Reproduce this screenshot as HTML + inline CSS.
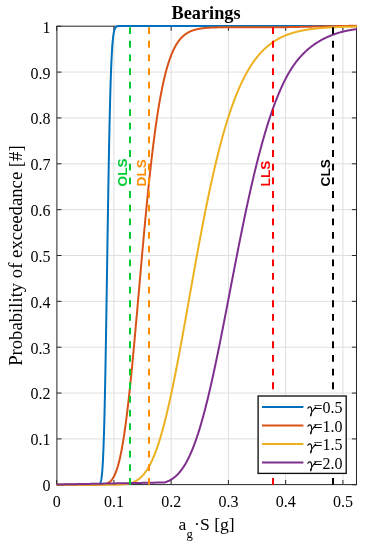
<!DOCTYPE html>
<html><head><meta charset="utf-8"><style>
html,body{margin:0;padding:0;background:#fff;}
svg{display:block;}
</style></head><body>
<svg width="369" height="550" viewBox="0 0 369 550">
<defs><clipPath id="ax"><rect x="55.4" y="24.2" width="302.60" height="462.40"/></clipPath></defs>
<rect width="369" height="550" fill="#fff"/>
<line x1="113.90" y1="26.2" x2="113.90" y2="484.6" stroke="#dfdfdf" stroke-width="1"/>
<line x1="171.15" y1="26.2" x2="171.15" y2="484.6" stroke="#dfdfdf" stroke-width="1"/>
<line x1="228.40" y1="26.2" x2="228.40" y2="484.6" stroke="#dfdfdf" stroke-width="1"/>
<line x1="285.65" y1="26.2" x2="285.65" y2="484.6" stroke="#dfdfdf" stroke-width="1"/>
<line x1="342.90" y1="26.2" x2="342.90" y2="484.6" stroke="#dfdfdf" stroke-width="1"/>
<line x1="56.9" y1="438.90" x2="356.5" y2="438.90" stroke="#dfdfdf" stroke-width="1"/>
<line x1="56.9" y1="393.05" x2="356.5" y2="393.05" stroke="#dfdfdf" stroke-width="1"/>
<line x1="56.9" y1="347.20" x2="356.5" y2="347.20" stroke="#dfdfdf" stroke-width="1"/>
<line x1="56.9" y1="301.35" x2="356.5" y2="301.35" stroke="#dfdfdf" stroke-width="1"/>
<line x1="56.9" y1="255.50" x2="356.5" y2="255.50" stroke="#dfdfdf" stroke-width="1"/>
<line x1="56.9" y1="209.65" x2="356.5" y2="209.65" stroke="#dfdfdf" stroke-width="1"/>
<line x1="56.9" y1="163.80" x2="356.5" y2="163.80" stroke="#dfdfdf" stroke-width="1"/>
<line x1="56.9" y1="117.95" x2="356.5" y2="117.95" stroke="#dfdfdf" stroke-width="1"/>
<line x1="56.9" y1="72.10" x2="356.5" y2="72.10" stroke="#dfdfdf" stroke-width="1"/>
<rect x="56.9" y="26.2" width="299.60" height="458.40" fill="none" stroke="#262626" stroke-width="1"/>
<line x1="56.65" y1="484.6" x2="56.65" y2="480.0" stroke="#262626" stroke-width="1"/>
<line x1="56.65" y1="26.2" x2="56.65" y2="30.799999999999997" stroke="#262626" stroke-width="1"/>
<line x1="113.90" y1="484.6" x2="113.90" y2="480.0" stroke="#262626" stroke-width="1"/>
<line x1="113.90" y1="26.2" x2="113.90" y2="30.799999999999997" stroke="#262626" stroke-width="1"/>
<line x1="171.15" y1="484.6" x2="171.15" y2="480.0" stroke="#262626" stroke-width="1"/>
<line x1="171.15" y1="26.2" x2="171.15" y2="30.799999999999997" stroke="#262626" stroke-width="1"/>
<line x1="228.40" y1="484.6" x2="228.40" y2="480.0" stroke="#262626" stroke-width="1"/>
<line x1="228.40" y1="26.2" x2="228.40" y2="30.799999999999997" stroke="#262626" stroke-width="1"/>
<line x1="285.65" y1="484.6" x2="285.65" y2="480.0" stroke="#262626" stroke-width="1"/>
<line x1="285.65" y1="26.2" x2="285.65" y2="30.799999999999997" stroke="#262626" stroke-width="1"/>
<line x1="342.90" y1="484.6" x2="342.90" y2="480.0" stroke="#262626" stroke-width="1"/>
<line x1="342.90" y1="26.2" x2="342.90" y2="30.799999999999997" stroke="#262626" stroke-width="1"/>
<line x1="56.9" y1="484.75" x2="61.5" y2="484.75" stroke="#262626" stroke-width="1"/>
<line x1="356.5" y1="484.75" x2="351.9" y2="484.75" stroke="#262626" stroke-width="1"/>
<line x1="56.9" y1="438.90" x2="61.5" y2="438.90" stroke="#262626" stroke-width="1"/>
<line x1="356.5" y1="438.90" x2="351.9" y2="438.90" stroke="#262626" stroke-width="1"/>
<line x1="56.9" y1="393.05" x2="61.5" y2="393.05" stroke="#262626" stroke-width="1"/>
<line x1="356.5" y1="393.05" x2="351.9" y2="393.05" stroke="#262626" stroke-width="1"/>
<line x1="56.9" y1="347.20" x2="61.5" y2="347.20" stroke="#262626" stroke-width="1"/>
<line x1="356.5" y1="347.20" x2="351.9" y2="347.20" stroke="#262626" stroke-width="1"/>
<line x1="56.9" y1="301.35" x2="61.5" y2="301.35" stroke="#262626" stroke-width="1"/>
<line x1="356.5" y1="301.35" x2="351.9" y2="301.35" stroke="#262626" stroke-width="1"/>
<line x1="56.9" y1="255.50" x2="61.5" y2="255.50" stroke="#262626" stroke-width="1"/>
<line x1="356.5" y1="255.50" x2="351.9" y2="255.50" stroke="#262626" stroke-width="1"/>
<line x1="56.9" y1="209.65" x2="61.5" y2="209.65" stroke="#262626" stroke-width="1"/>
<line x1="356.5" y1="209.65" x2="351.9" y2="209.65" stroke="#262626" stroke-width="1"/>
<line x1="56.9" y1="163.80" x2="61.5" y2="163.80" stroke="#262626" stroke-width="1"/>
<line x1="356.5" y1="163.80" x2="351.9" y2="163.80" stroke="#262626" stroke-width="1"/>
<line x1="56.9" y1="117.95" x2="61.5" y2="117.95" stroke="#262626" stroke-width="1"/>
<line x1="356.5" y1="117.95" x2="351.9" y2="117.95" stroke="#262626" stroke-width="1"/>
<line x1="56.9" y1="72.10" x2="61.5" y2="72.10" stroke="#262626" stroke-width="1"/>
<line x1="356.5" y1="72.10" x2="351.9" y2="72.10" stroke="#262626" stroke-width="1"/>
<line x1="56.9" y1="26.25" x2="61.5" y2="26.25" stroke="#262626" stroke-width="1"/>
<line x1="356.5" y1="26.25" x2="351.9" y2="26.25" stroke="#262626" stroke-width="1"/>
<g fill="none" stroke-width="2" stroke-linejoin="round" clip-path="url(#ax)">
<path d="M56.65,484.75 L57.05,484.75 L57.45,484.75 L57.85,484.75 L58.25,484.75 L58.65,484.75 L59.05,484.75 L59.45,484.75 L59.85,484.75 L60.25,484.75 L60.65,484.75 L61.06,484.75 L61.46,484.75 L61.86,484.75 L62.26,484.75 L62.66,484.75 L63.06,484.75 L63.46,484.75 L63.86,484.75 L64.26,484.75 L64.66,484.75 L65.06,484.75 L65.46,484.75 L65.86,484.75 L66.26,484.75 L66.66,484.75 L67.06,484.75 L67.46,484.75 L67.86,484.75 L68.26,484.75 L68.66,484.75 L69.06,484.75 L69.46,484.75 L69.87,484.75 L70.27,484.75 L70.67,484.75 L71.07,484.75 L71.47,484.75 L71.87,484.75 L72.27,484.75 L72.67,484.75 L73.07,484.75 L73.47,484.75 L73.87,484.75 L74.27,484.75 L74.67,484.75 L75.07,484.75 L75.47,484.75 L75.87,484.75 L76.27,484.75 L76.67,484.75 L77.07,484.75 L77.47,484.75 L77.87,484.75 L78.28,484.75 L78.68,484.75 L79.08,484.75 L79.48,484.75 L79.88,484.75 L80.28,484.75 L80.68,484.75 L81.08,484.75 L81.48,484.75 L81.88,484.75 L82.28,484.75 L82.68,484.75 L83.08,484.75 L83.48,484.75 L83.88,484.75 L84.28,484.75 L84.68,484.75 L85.08,484.75 L85.48,484.75 L85.88,484.75 L86.28,484.75 L86.69,484.75 L87.09,484.75 L87.49,484.75 L87.89,484.75 L88.29,484.75 L88.69,484.75 L89.09,484.75 L89.49,484.75 L89.89,484.75 L90.29,484.75 L90.69,484.75 L91.09,484.75 L91.49,484.75 L91.89,484.75 L92.29,484.75 L92.69,484.75 L93.09,484.75 L93.49,484.75 L93.89,484.75 L94.29,484.75 L94.69,484.75 L95.09,484.75 L95.50,484.75 L95.90,484.75 L96.30,484.75 L96.70,484.74 L97.10,484.74 L97.50,484.73 L97.90,484.70 L98.30,484.65 L98.70,484.57 L99.10,484.41 L99.30,484.30 L99.50,484.15 L99.70,483.96 L99.90,483.72 L100.10,483.42 L100.30,483.04 L100.50,482.57 L100.70,481.99 L100.90,481.28 L101.10,480.42 L101.30,479.38 L101.50,478.14 L101.70,476.66 L101.90,474.93 L102.10,472.89 L102.30,470.53 L102.50,467.80 L102.70,464.68 L102.90,461.12 L103.10,457.10 L103.30,452.58 L103.50,447.53 L103.70,441.93 L103.91,435.77 L104.11,429.01 L104.31,421.66 L104.51,413.71 L104.71,405.17 L104.91,396.03 L105.11,386.32 L105.31,376.07 L105.51,365.30 L105.71,354.05 L105.91,342.37 L106.11,330.30 L106.31,317.91 L106.51,305.25 L106.71,292.39 L106.91,279.39 L107.11,266.32 L107.31,253.24 L107.51,240.23 L107.71,227.34 L107.91,214.64 L108.11,202.20 L108.31,190.05 L108.51,178.25 L108.71,166.85 L108.91,155.89 L109.11,145.39 L109.31,135.39 L109.51,125.89 L109.71,116.93 L109.91,108.50 L110.11,100.60 L110.31,93.24 L110.51,86.41 L110.71,80.10 L110.91,74.29 L111.11,68.97 L111.31,64.10 L111.51,59.68 L111.71,55.68 L111.91,52.07 L112.11,48.83 L112.31,45.92 L112.52,43.34 L112.72,41.04 L112.92,39.00 L113.12,37.21 L113.32,35.63 L113.52,34.25 L113.72,33.05 L113.92,32.01 L114.12,31.10 L114.32,30.32 L114.52,29.65 L114.72,29.07 L114.92,28.58 L115.12,28.16 L115.32,27.81 L115.52,27.51 L115.72,27.25 L115.92,27.04 L116.12,26.86 L116.32,26.71 L116.52,26.59 L116.72,26.48 L117.12,26.33 L117.52,26.22 L117.92,26.15 L118.32,26.11 L118.72,26.07 L119.12,26.05 L119.52,26.04 L119.92,26.03 L120.32,26.03 L120.72,26.03 L121.13,26.02 L121.53,26.02 L121.93,26.02 L122.33,26.02 L122.73,26.02 L123.13,26.02 L123.53,26.02 L123.93,26.02 L124.33,26.02 L124.73,26.02 L125.13,26.02 L125.53,26.02 L125.93,26.02 L126.33,26.02 L126.73,26.02 L127.13,26.02 L127.53,26.02 L127.93,26.02 L128.33,26.02 L128.73,26.02 L129.13,26.02 L129.53,26.02 L129.94,26.02 L130.34,26.02 L130.74,26.02 L131.14,26.02 L131.54,26.02 L131.94,26.02 L132.34,26.02 L132.74,26.02 L133.14,26.02 L133.54,26.02 L133.94,26.02 L134.34,26.02 L134.74,26.02 L135.14,26.02 L135.54,26.02 L135.94,26.02 L136.34,26.02 L136.74,26.02 L137.14,26.02 L137.54,26.02 L137.94,26.02 L138.35,26.02 L138.75,26.02 L139.15,26.02 L139.55,26.02 L139.95,26.02 L140.35,26.02 L140.75,26.02 L141.15,26.02 L141.55,26.02 L141.95,26.02 L142.35,26.02 L142.75,26.02 L143.15,26.02 L143.55,26.02 L143.95,26.02 L144.35,26.02 L144.75,26.02 L145.15,26.02 L145.55,26.02 L145.95,26.02 L146.35,26.02 L146.75,26.02 L147.16,26.02 L147.56,26.02 L147.96,26.02 L148.36,26.02 L148.76,26.02 L149.16,26.02 L149.56,26.02 L149.96,26.02 L150.36,26.02 L150.76,26.02 L151.16,26.02 L151.56,26.02 L151.96,26.02 L152.36,26.02 L152.76,26.02 L153.16,26.02 L153.56,26.02 L153.96,26.02 L154.36,26.02 L154.76,26.02 L155.16,26.02 L155.57,26.02 L155.97,26.02 L156.37,26.02 L156.77,26.02 L157.17,26.02 L157.57,26.02 L157.97,26.02 L158.37,26.02 L158.77,26.02 L159.17,26.02 L159.57,26.02 L159.97,26.02 L160.37,26.02 L160.77,26.02 L161.17,26.02 L161.57,26.02 L161.97,26.02 L162.37,26.02 L162.77,26.02 L163.17,26.02 L163.57,26.02 L163.98,26.02 L164.38,26.02 L164.78,26.02 L165.18,26.02 L165.58,26.02 L165.98,26.02 L166.38,26.02 L166.78,26.02 L167.18,26.02 L167.58,26.02 L167.98,26.02 L168.38,26.02 L168.78,26.02 L169.18,26.02 L169.58,26.02 L169.98,26.02 L170.38,26.02 L170.78,26.02 L171.18,26.02 L171.58,26.02 L171.98,26.02 L172.38,26.02 L172.79,26.02 L173.19,26.02 L173.59,26.02 L173.99,26.02 L174.39,26.02 L174.79,26.02 L175.19,26.02 L175.59,26.02 L175.99,26.02 L176.39,26.02 L176.79,26.02 L177.19,26.02 L177.59,26.02 L177.99,26.02 L178.39,26.02 L178.79,26.02 L179.19,26.02 L179.59,26.02 L179.99,26.02 L180.39,26.02 L180.79,26.02 L181.20,26.02 L181.60,26.02 L182.00,26.02 L182.40,26.02 L182.80,26.02 L183.20,26.02 L183.60,26.02 L184.00,26.02 L184.40,26.02 L184.80,26.02 L185.20,26.02 L185.60,26.02 L186.00,26.02 L186.40,26.02 L186.80,26.02 L187.20,26.02 L187.60,26.02 L188.00,26.02 L188.40,26.02 L188.80,26.02 L189.20,26.02 L189.60,26.02 L190.01,26.02 L190.41,26.02 L190.81,26.02 L191.21,26.02 L191.61,26.02 L192.01,26.02 L192.41,26.02 L192.81,26.02 L193.21,26.02 L193.61,26.02 L194.01,26.02 L194.41,26.02 L194.81,26.02 L195.21,26.02 L195.61,26.02 L196.01,26.02 L196.41,26.02 L196.81,26.02 L197.21,26.02 L197.61,26.02 L198.01,26.02 L198.42,26.02 L198.82,26.02 L199.22,26.02 L199.62,26.02 L200.02,26.02 L200.42,26.02 L200.82,26.02 L201.22,26.02 L201.62,26.02 L202.02,26.02 L202.42,26.02 L202.82,26.02 L203.22,26.02 L203.62,26.02 L204.02,26.02 L204.42,26.02 L204.82,26.02 L205.22,26.02 L205.62,26.02 L206.02,26.02 L206.42,26.02 L206.83,26.02 L207.23,26.02 L207.63,26.02 L208.03,26.02 L208.43,26.02 L208.83,26.02 L209.23,26.02 L209.63,26.02 L210.03,26.02 L210.43,26.02 L210.83,26.02 L211.23,26.02 L211.63,26.02 L212.03,26.02 L212.43,26.02 L212.83,26.02 L213.23,26.02 L213.63,26.02 L214.03,26.02 L214.43,26.02 L214.83,26.02 L215.23,26.02 L215.64,26.02 L216.04,26.02 L216.44,26.02 L216.84,26.02 L217.24,26.02 L217.64,26.02 L218.04,26.02 L218.44,26.02 L218.84,26.02 L219.24,26.02 L219.64,26.02 L220.04,26.02 L220.44,26.02 L220.84,26.02 L221.24,26.02 L221.64,26.02 L222.04,26.02 L222.44,26.02 L222.84,26.02 L223.24,26.02 L223.64,26.02 L224.05,26.02 L224.45,26.02 L224.85,26.02 L225.25,26.02 L225.65,26.02 L226.05,26.02 L226.45,26.02 L226.85,26.02 L227.25,26.02 L227.65,26.02 L228.05,26.02 L228.45,26.02 L228.85,26.02 L229.25,26.02 L229.65,26.02 L230.05,26.02 L230.45,26.02 L230.85,26.02 L231.25,26.02 L231.65,26.02 L232.05,26.02 L232.45,26.02 L232.86,26.02 L233.26,26.02 L233.66,26.02 L234.06,26.02 L234.46,26.02 L234.86,26.02 L235.26,26.02 L235.66,26.02 L236.06,26.02 L236.46,26.02 L236.86,26.02 L237.26,26.02 L237.66,26.02 L238.06,26.02 L238.46,26.02 L238.86,26.02 L239.26,26.02 L239.66,26.02 L240.06,26.02 L240.46,26.02 L240.86,26.02 L241.27,26.02 L241.67,26.02 L242.07,26.02 L242.47,26.02 L242.87,26.02 L243.27,26.02 L243.67,26.02 L244.07,26.02 L244.47,26.02 L244.87,26.02 L245.27,26.02 L245.67,26.02 L246.07,26.02 L246.47,26.02 L246.87,26.02 L247.27,26.02 L247.67,26.02 L248.07,26.02 L248.47,26.02 L248.87,26.02 L249.27,26.02 L249.67,26.02 L250.08,26.02 L250.48,26.02 L250.88,26.02 L251.28,26.02 L251.68,26.02 L252.08,26.02 L252.48,26.02 L252.88,26.02 L253.28,26.02 L253.68,26.02 L254.08,26.02 L254.48,26.02 L254.88,26.02 L255.28,26.02 L255.68,26.02 L256.08,26.02 L256.48,26.02 L256.88,26.02 L257.28,26.02 L257.68,26.02 L258.08,26.02 L258.49,26.02 L258.89,26.02 L259.29,26.02 L259.69,26.02 L260.09,26.02 L260.49,26.02 L260.89,26.02 L261.29,26.02 L261.69,26.02 L262.09,26.02 L262.49,26.02 L262.89,26.02 L263.29,26.02 L263.69,26.02 L264.09,26.02 L264.49,26.02 L264.89,26.02 L265.29,26.02 L265.69,26.02 L266.09,26.02 L266.49,26.02 L266.90,26.02 L267.30,26.02 L267.70,26.02 L268.10,26.02 L268.50,26.02 L268.90,26.02 L269.30,26.02 L269.70,26.02 L270.10,26.02 L270.50,26.02 L270.90,26.02 L271.30,26.02 L271.70,26.02 L272.10,26.02 L272.50,26.02 L272.90,26.02 L273.30,26.02 L273.70,26.02 L274.10,26.02 L274.50,26.02 L274.90,26.02 L275.30,26.02 L275.71,26.02 L276.11,26.02 L276.51,26.02 L276.91,26.02 L277.31,26.02 L277.71,26.02 L278.11,26.02 L278.51,26.02 L278.91,26.02 L279.31,26.02 L279.71,26.02 L280.11,26.02 L280.51,26.02 L280.91,26.02 L281.31,26.02 L281.71,26.02 L282.11,26.02 L282.51,26.02 L282.91,26.02 L283.31,26.02 L283.71,26.02 L284.12,26.02 L284.52,26.02 L284.92,26.02 L285.32,26.02 L285.72,26.02 L286.12,26.02 L286.52,26.02 L286.92,26.02 L287.32,26.02 L287.72,26.02 L288.12,26.02 L288.52,26.02 L288.92,26.02 L289.32,26.02 L289.72,26.02 L290.12,26.02 L290.52,26.02 L290.92,26.02 L291.32,26.02 L291.72,26.02 L292.12,26.02 L292.52,26.02 L292.93,26.02 L293.33,26.02 L293.73,26.02 L294.13,26.02 L294.53,26.02 L294.93,26.02 L295.33,26.02 L295.73,26.02 L296.13,26.02 L296.53,26.02 L296.93,26.02 L297.33,26.02 L297.73,26.02 L298.13,26.02 L298.53,26.02 L298.93,26.02 L299.33,26.02 L299.73,26.02 L300.13,26.02 L300.53,26.02 L300.93,26.02 L301.34,26.02 L301.74,26.02 L302.14,26.02 L302.54,26.02 L302.94,26.02 L303.34,26.02 L303.74,26.02 L304.14,26.02 L304.54,26.02 L304.94,26.02 L305.34,26.02 L305.74,26.02 L306.14,26.02 L306.54,26.02 L306.94,26.02 L307.34,26.02 L307.74,26.02 L308.14,26.02 L308.54,26.02 L308.94,26.02 L309.34,26.02 L309.74,26.02 L310.15,26.02 L310.55,26.02 L310.95,26.02 L311.35,26.02 L311.75,26.02 L312.15,26.02 L312.55,26.02 L312.95,26.02 L313.35,26.02 L313.75,26.02 L314.15,26.02 L314.55,26.02 L314.95,26.02 L315.35,26.02 L315.75,26.02 L316.15,26.02 L316.55,26.02 L316.95,26.02 L317.35,26.02 L317.75,26.02 L318.15,26.02 L318.56,26.02 L318.96,26.02 L319.36,26.02 L319.76,26.02 L320.16,26.02 L320.56,26.02 L320.96,26.02 L321.36,26.02 L321.76,26.02 L322.16,26.02 L322.56,26.02 L322.96,26.02 L323.36,26.02 L323.76,26.02 L324.16,26.02 L324.56,26.02 L324.96,26.02 L325.36,26.02 L325.76,26.02 L326.16,26.02 L326.56,26.02 L326.97,26.02 L327.37,26.02 L327.77,26.02 L328.17,26.02 L328.57,26.02 L328.97,26.02 L329.37,26.02 L329.77,26.02 L330.17,26.02 L330.57,26.02 L330.97,26.02 L331.37,26.02 L331.77,26.02 L332.17,26.02 L332.57,26.02 L332.97,26.02 L333.37,26.02 L333.77,26.02 L334.17,26.02 L334.57,26.02 L334.97,26.02 L335.37,26.02 L335.78,26.02 L336.18,26.02 L336.58,26.02 L336.98,26.02 L337.38,26.02 L337.78,26.02 L338.18,26.02 L338.58,26.02 L338.98,26.02 L339.38,26.02 L339.78,26.02 L340.18,26.02 L340.58,26.02 L340.98,26.02 L341.38,26.02 L341.78,26.02 L342.18,26.02 L342.58,26.02 L342.98,26.02 L343.38,26.02 L343.78,26.02 L344.19,26.02 L344.59,26.02 L344.99,26.02 L345.39,26.02 L345.79,26.02 L346.19,26.02 L346.59,26.02 L346.99,26.02 L347.39,26.02 L347.79,26.02 L348.19,26.02 L348.59,26.02 L348.99,26.02 L349.39,26.02 L349.79,26.02 L350.19,26.02 L350.59,26.02 L350.99,26.02 L351.39,26.02 L351.79,26.02 L352.19,26.02 L352.59,26.02 L353.00,26.02 L353.40,26.02 L353.80,26.02 L354.20,26.02 L354.60,26.02 L355.00,26.02 L355.40,26.02 L355.80,26.02 L356.20,26.02 L356.60,26.02 L357.00,26.02" stroke="#0072BD"/>
<path d="M56.65,484.75 L57.05,484.75 L57.45,484.75 L57.85,484.75 L58.25,484.75 L58.65,484.75 L59.05,484.75 L59.45,484.75 L59.85,484.75 L60.25,484.75 L60.65,484.75 L61.06,484.75 L61.46,484.75 L61.86,484.75 L62.26,484.75 L62.66,484.75 L63.06,484.75 L63.46,484.75 L63.86,484.75 L64.26,484.75 L64.66,484.75 L65.06,484.75 L65.46,484.75 L65.86,484.75 L66.26,484.75 L66.66,484.75 L67.06,484.75 L67.46,484.75 L67.86,484.75 L68.26,484.75 L68.66,484.75 L69.06,484.75 L69.46,484.75 L69.87,484.75 L70.27,484.75 L70.67,484.75 L71.07,484.75 L71.47,484.75 L71.87,484.75 L72.27,484.75 L72.67,484.75 L73.07,484.75 L73.47,484.75 L73.87,484.75 L74.27,484.75 L74.67,484.75 L75.07,484.75 L75.47,484.75 L75.87,484.75 L76.27,484.75 L76.67,484.75 L77.07,484.75 L77.47,484.75 L77.87,484.75 L78.28,484.75 L78.68,484.75 L79.08,484.75 L79.48,484.75 L79.88,484.75 L80.28,484.75 L80.68,484.75 L81.08,484.75 L81.48,484.75 L81.88,484.75 L82.28,484.75 L82.68,484.75 L83.08,484.75 L83.48,484.75 L83.88,484.75 L84.28,484.75 L84.68,484.75 L85.08,484.75 L85.48,484.75 L85.88,484.75 L86.28,484.75 L86.69,484.75 L87.09,484.75 L87.49,484.75 L87.89,484.75 L88.29,484.75 L88.69,484.75 L89.09,484.75 L89.49,484.75 L89.89,484.75 L90.29,484.75 L90.69,484.75 L91.09,484.75 L91.49,484.75 L91.89,484.75 L92.29,484.75 L92.69,484.75 L93.09,484.75 L93.49,484.75 L93.89,484.75 L94.29,484.75 L94.69,484.74 L95.09,484.74 L95.50,484.74 L95.90,484.74 L96.30,484.74 L96.70,484.73 L97.10,484.73 L97.50,484.72 L97.90,484.72 L98.30,484.71 L98.70,484.70 L99.10,484.69 L99.50,484.68 L99.90,484.67 L100.30,484.65 L100.70,484.63 L101.10,484.61 L101.50,484.58 L101.90,484.55 L102.30,484.51 L102.70,484.47 L103.10,484.43 L103.50,484.37 L103.91,484.31 L104.31,484.24 L104.71,484.16 L105.11,484.07 L105.51,483.97 L105.91,483.85 L106.31,483.72 L106.71,483.58 L107.11,483.42 L107.51,483.24 L107.91,483.04 L108.11,482.93 L108.31,482.82 L108.51,482.70 L108.71,482.57 L108.91,482.44 L109.11,482.31 L109.31,482.16 L109.51,482.01 L109.71,481.85 L109.91,481.69 L110.11,481.52 L110.31,481.34 L110.51,481.15 L110.71,480.95 L110.91,480.74 L111.11,480.53 L111.31,480.30 L111.51,480.07 L111.71,479.83 L111.91,479.58 L112.11,479.31 L112.31,479.04 L112.52,478.75 L112.72,478.46 L112.92,478.15 L113.12,477.83 L113.32,477.50 L113.52,477.16 L113.72,476.80 L113.92,476.44 L114.12,476.06 L114.32,475.66 L114.52,475.25 L114.72,474.83 L114.92,474.39 L115.12,473.94 L115.32,473.48 L115.52,473.00 L115.72,472.50 L115.92,471.99 L116.12,471.46 L116.32,470.92 L116.52,470.36 L116.72,469.78 L116.92,469.19 L117.12,468.58 L117.32,467.95 L117.52,467.31 L117.72,466.64 L117.92,465.96 L118.12,465.26 L118.32,464.54 L118.52,463.81 L118.72,463.05 L118.92,462.27 L119.12,461.48 L119.32,460.67 L119.52,459.83 L119.72,458.98 L119.92,458.10 L120.12,457.21 L120.32,456.30 L120.52,455.36 L120.72,454.40 L120.92,453.43 L121.13,452.43 L121.33,451.41 L121.53,450.37 L121.73,449.31 L121.93,448.23 L122.13,447.13 L122.33,446.00 L122.53,444.85 L122.73,443.69 L122.93,442.50 L123.13,441.29 L123.33,440.05 L123.53,438.80 L123.73,437.52 L123.93,436.22 L124.13,434.90 L124.33,433.56 L124.53,432.20 L124.73,430.82 L124.93,429.41 L125.13,427.98 L125.33,426.54 L125.53,425.07 L125.73,423.58 L125.93,422.07 L126.13,420.53 L126.33,418.98 L126.53,417.41 L126.73,415.81 L126.93,414.20 L127.13,412.57 L127.33,410.91 L127.53,409.24 L127.73,407.54 L127.93,405.83 L128.13,404.10 L128.33,402.35 L128.53,400.58 L128.73,398.79 L128.93,396.99 L129.13,395.16 L129.33,393.32 L129.53,391.46 L129.74,389.58 L129.94,387.69 L130.14,385.78 L130.34,383.86 L130.54,381.91 L130.74,379.96 L130.94,377.98 L131.14,375.99 L131.34,373.99 L131.54,371.97 L131.74,369.94 L131.94,367.90 L132.14,365.84 L132.34,363.77 L132.54,361.68 L132.74,359.59 L132.94,357.48 L133.14,355.36 L133.34,353.23 L133.54,351.09 L133.74,348.93 L133.94,346.77 L134.14,344.60 L134.34,342.42 L134.54,340.23 L134.74,338.03 L134.94,335.82 L135.14,333.60 L135.34,331.38 L135.54,329.15 L135.74,326.92 L135.94,324.68 L136.14,322.43 L136.34,320.17 L136.54,317.92 L136.74,315.65 L136.94,313.39 L137.14,311.11 L137.34,308.84 L137.54,306.56 L137.74,304.28 L137.94,302.00 L138.14,299.71 L138.35,297.43 L138.55,295.14 L138.75,292.85 L138.95,290.57 L139.15,288.28 L139.35,285.99 L139.55,283.70 L139.75,281.42 L139.95,279.13 L140.15,276.85 L140.35,274.57 L140.55,272.29 L140.75,270.01 L140.95,267.74 L141.15,265.47 L141.35,263.21 L141.55,260.95 L141.75,258.69 L141.95,256.44 L142.15,254.20 L142.35,251.96 L142.55,249.72 L142.75,247.50 L142.95,245.27 L143.15,243.06 L143.35,240.85 L143.55,238.65 L143.75,236.46 L143.95,234.27 L144.15,232.09 L144.35,229.93 L144.55,227.77 L144.75,225.61 L144.95,223.47 L145.15,221.34 L145.35,219.22 L145.55,217.10 L145.75,215.00 L145.95,212.91 L146.15,210.83 L146.35,208.76 L146.55,206.69 L146.75,204.65 L146.96,202.61 L147.16,200.58 L147.36,198.57 L147.56,196.56 L147.76,194.57 L147.96,192.59 L148.16,190.63 L148.36,188.67 L148.56,186.73 L148.76,184.80 L148.96,182.89 L149.16,180.99 L149.36,179.10 L149.56,177.22 L149.76,175.36 L149.96,173.51 L150.16,171.68 L150.36,169.85 L150.56,168.05 L150.76,166.25 L150.96,164.47 L151.16,162.71 L151.36,160.96 L151.56,159.22 L151.76,157.50 L151.96,155.79 L152.16,154.10 L152.36,152.42 L152.56,150.75 L152.76,149.10 L152.96,147.47 L153.16,145.85 L153.36,144.24 L153.56,142.65 L153.76,141.07 L153.96,139.51 L154.16,137.96 L154.36,136.43 L154.56,134.91 L154.76,133.41 L154.96,131.92 L155.16,130.45 L155.37,128.99 L155.57,127.54 L155.77,126.11 L155.97,124.70 L156.17,123.30 L156.37,121.92 L156.57,120.55 L156.77,119.19 L156.97,117.85 L157.17,116.52 L157.37,115.21 L157.57,113.91 L157.77,112.63 L157.97,111.36 L158.17,110.10 L158.37,108.86 L158.57,107.63 L158.77,106.42 L158.97,105.22 L159.17,104.04 L159.37,102.87 L159.57,101.71 L159.77,100.57 L159.97,99.44 L160.17,98.32 L160.37,97.22 L160.57,96.13 L160.77,95.06 L160.97,94.00 L161.17,92.95 L161.37,91.91 L161.57,90.89 L161.77,89.88 L161.97,88.88 L162.17,87.90 L162.37,86.93 L162.57,85.97 L162.77,85.02 L162.97,84.09 L163.17,83.17 L163.37,82.26 L163.57,81.36 L163.77,80.48 L163.98,79.60 L164.18,78.74 L164.38,77.89 L164.58,77.05 L164.78,76.23 L164.98,75.41 L165.18,74.61 L165.38,73.82 L165.58,73.03 L165.78,72.26 L165.98,71.51 L166.18,70.76 L166.38,70.02 L166.58,69.29 L166.78,68.57 L166.98,67.87 L167.18,67.17 L167.38,66.49 L167.58,65.81 L167.78,65.14 L167.98,64.49 L168.18,63.84 L168.38,63.20 L168.58,62.58 L168.78,61.96 L168.98,61.35 L169.18,60.75 L169.38,60.16 L169.58,59.58 L169.78,59.01 L169.98,58.44 L170.18,57.89 L170.38,57.34 L170.58,56.80 L170.78,56.28 L170.98,55.75 L171.18,55.24 L171.38,54.74 L171.58,54.24 L171.78,53.75 L171.98,53.27 L172.18,52.80 L172.38,52.33 L172.59,51.87 L172.79,51.42 L172.99,50.98 L173.19,50.54 L173.39,50.11 L173.59,49.69 L173.79,49.28 L173.99,48.87 L174.19,48.47 L174.39,48.07 L174.59,47.68 L174.79,47.30 L174.99,46.92 L175.19,46.55 L175.39,46.19 L175.59,45.83 L175.79,45.48 L175.99,45.14 L176.19,44.80 L176.39,44.47 L176.59,44.14 L176.79,43.82 L176.99,43.50 L177.19,43.19 L177.39,42.88 L177.59,42.58 L177.79,42.29 L177.99,42.00 L178.19,41.71 L178.39,41.43 L178.59,41.16 L178.79,40.89 L178.99,40.62 L179.19,40.36 L179.39,40.11 L179.59,39.86 L179.79,39.61 L179.99,39.37 L180.19,39.13 L180.39,38.89 L180.59,38.66 L180.79,38.44 L180.99,38.22 L181.20,38.00 L181.40,37.79 L181.60,37.58 L181.80,37.37 L182.00,37.17 L182.20,36.97 L182.40,36.78 L182.60,36.58 L182.80,36.40 L183.00,36.21 L183.20,36.03 L183.40,35.85 L183.60,35.68 L183.80,35.51 L184.00,35.34 L184.20,35.18 L184.40,35.02 L184.60,34.86 L184.80,34.70 L185.00,34.55 L185.20,34.40 L185.40,34.25 L185.60,34.11 L185.80,33.97 L186.00,33.83 L186.20,33.69 L186.40,33.56 L186.60,33.43 L186.80,33.30 L187.00,33.18 L187.20,33.05 L187.40,32.93 L187.60,32.81 L187.80,32.70 L188.00,32.58 L188.20,32.47 L188.40,32.36 L188.60,32.25 L188.80,32.15 L189.00,32.05 L189.20,31.94 L189.60,31.75 L190.01,31.56 L190.41,31.38 L190.81,31.20 L191.21,31.03 L191.61,30.87 L192.01,30.72 L192.41,30.57 L192.81,30.43 L193.21,30.29 L193.61,30.16 L194.01,30.03 L194.41,29.91 L194.81,29.80 L195.21,29.68 L195.61,29.58 L196.01,29.47 L196.41,29.38 L196.81,29.28 L197.21,29.19 L197.61,29.10 L198.01,29.02 L198.42,28.94 L198.82,28.86 L199.22,28.79 L199.62,28.72 L200.02,28.65 L200.42,28.59 L200.82,28.53 L201.22,28.47 L201.62,28.41 L202.02,28.36 L202.42,28.30 L202.82,28.25 L203.22,28.21 L203.62,28.16 L204.02,28.12 L204.42,28.08 L204.82,28.04 L205.22,28.00 L205.62,27.96 L206.02,27.93 L206.42,27.89 L206.83,27.86 L207.23,27.83 L207.63,27.80 L208.03,27.77 L208.43,27.74 L208.83,27.72 L209.23,27.69 L209.63,27.67 L210.03,27.65 L210.43,27.63 L210.83,27.61 L211.23,27.59 L211.63,27.57 L212.03,27.55 L212.43,27.53 L212.83,27.51 L213.23,27.50 L213.63,27.48 L214.03,27.47 L214.43,27.46 L214.83,27.44 L215.23,27.43 L215.64,27.42 L216.04,27.41 L216.44,27.40 L216.84,27.39 L217.24,27.38 L217.64,27.37 L218.04,27.36 L218.44,27.35 L218.84,27.34 L219.24,27.33 L219.64,27.32 L220.04,27.32 L220.44,27.31 L220.84,27.30 L221.24,27.30 L221.64,27.29 L222.04,27.29 L222.44,27.28 L222.84,27.27 L223.24,27.27 L223.64,27.27 L224.05,27.26 L224.45,27.26 L224.85,27.25 L225.25,27.25 L225.65,27.24 L226.05,27.24 L226.45,27.24 L226.85,27.23 L227.25,27.23 L227.65,27.23 L228.05,27.23 L228.45,27.22 L228.85,27.22 L229.25,27.22 L229.65,27.21 L230.05,27.21 L230.45,27.21 L230.85,27.21 L231.25,27.21 L231.65,27.20 L232.05,27.20 L232.45,27.20 L232.86,27.20 L233.26,27.20 L233.66,27.20 L234.06,27.20 L234.46,27.19 L234.86,27.19 L235.26,27.19 L235.66,27.19 L236.06,27.19 L236.46,27.19 L236.86,27.19 L237.26,27.19 L237.66,27.19 L238.06,27.18 L238.46,27.18 L238.86,27.18 L239.26,27.18 L239.66,27.18 L240.06,27.18 L240.46,27.18 L240.86,27.18 L241.27,27.18 L241.67,27.18 L242.07,27.18 L242.47,27.18 L242.87,27.18 L243.27,27.18 L243.67,27.18 L244.07,27.18 L244.47,27.17 L244.87,27.17 L245.27,27.17 L245.67,27.17 L246.07,27.17 L246.47,27.17 L246.87,27.17 L247.27,27.17 L247.67,27.17 L248.07,27.17 L248.47,27.17 L248.87,27.17 L249.27,27.17 L249.67,27.17 L250.08,27.17 L250.48,27.17 L250.88,27.17 L251.28,27.17 L251.68,27.17 L252.08,27.17 L252.48,27.17 L252.88,27.17 L253.28,27.17 L253.68,27.17 L254.08,27.17 L254.48,27.17 L254.88,27.17 L255.28,27.17 L255.68,27.17 L256.08,27.17 L256.48,27.17 L256.88,27.17 L257.28,27.17 L257.68,27.17 L258.08,27.17 L258.49,27.17 L258.89,27.17 L259.29,27.17 L259.69,27.17 L260.09,27.17 L260.49,27.17 L260.89,27.17 L261.29,27.17 L261.69,27.17 L262.09,27.17 L262.49,27.17 L262.89,27.17 L263.29,27.17 L263.69,27.17 L264.09,27.17 L264.49,27.17 L264.89,27.17 L265.29,27.17 L265.69,27.17 L266.09,27.17 L266.49,27.17 L266.90,27.17 L267.30,27.17 L267.70,27.17 L268.10,27.17 L268.50,27.17 L268.90,27.17 L269.30,27.17 L269.70,27.17 L270.10,27.17 L270.50,27.17 L270.90,27.17 L271.30,27.17 L271.70,27.17 L272.10,27.17 L272.50,27.17 L272.90,27.17 L273.30,27.17 L273.70,27.17 L274.10,27.17 L274.50,27.17 L274.90,27.17 L275.30,27.17 L275.71,27.17 L276.11,27.17 L276.51,27.17 L276.91,27.17 L277.31,27.17 L277.71,27.17 L278.11,27.17 L278.51,27.17 L278.91,27.17 L279.31,27.17 L279.71,27.17 L280.11,27.17 L280.51,27.17 L280.91,27.17 L281.31,27.17 L281.71,27.17 L282.11,27.17 L282.51,27.17 L282.91,27.17 L283.31,27.17 L283.71,27.17 L284.12,27.17 L284.52,27.17 L284.92,27.17 L285.32,27.17 L285.72,27.17 L286.12,27.16 L286.52,27.15 L286.92,27.14 L287.32,27.13 L287.72,27.12 L288.12,27.12 L288.52,27.11 L288.92,27.10 L289.32,27.09 L289.72,27.08 L290.12,27.07 L290.52,27.07 L290.92,27.06 L291.32,27.05 L291.72,27.04 L292.12,27.03 L292.52,27.02 L292.93,27.02 L293.33,27.01 L293.73,27.00 L294.13,26.99 L294.53,26.98 L294.93,26.98 L295.33,26.97 L295.73,26.96 L296.13,26.95 L296.53,26.94 L296.93,26.93 L297.33,26.93 L297.73,26.92 L298.13,26.91 L298.53,26.90 L298.93,26.89 L299.33,26.88 L299.73,26.88 L300.13,26.87 L300.53,26.86 L300.93,26.85 L301.34,26.84 L301.74,26.83 L302.14,26.83 L302.54,26.82 L302.94,26.81 L303.34,26.80 L303.74,26.79 L304.14,26.78 L304.54,26.78 L304.94,26.77 L305.34,26.76 L305.74,26.75 L306.14,26.74 L306.54,26.74 L306.94,26.73 L307.34,26.72 L307.74,26.71 L308.14,26.70 L308.54,26.69 L308.94,26.69 L309.34,26.68 L309.74,26.67 L310.15,26.66 L310.55,26.65 L310.95,26.64 L311.35,26.64 L311.75,26.63 L312.15,26.62 L312.55,26.61 L312.95,26.60 L313.35,26.59 L313.75,26.59 L314.15,26.58 L314.55,26.57 L314.95,26.56 L315.35,26.55 L315.75,26.54 L316.15,26.54 L316.55,26.53 L316.95,26.52 L317.35,26.51 L317.75,26.50 L318.15,26.50 L318.56,26.49 L318.96,26.48 L319.36,26.47 L319.76,26.46 L320.16,26.45 L320.56,26.45 L320.96,26.44 L321.36,26.43 L321.76,26.42 L322.16,26.41 L322.56,26.40 L322.96,26.40 L323.36,26.39 L323.76,26.38 L324.16,26.37 L324.56,26.36 L324.96,26.35 L325.36,26.35 L325.76,26.34 L326.16,26.33 L326.56,26.32 L326.97,26.31 L327.37,26.30 L327.77,26.30 L328.17,26.29 L328.57,26.28 L328.97,26.27 L329.37,26.26 L329.77,26.26 L330.17,26.25 L330.57,26.24 L330.97,26.23 L331.37,26.22 L331.77,26.21 L332.17,26.21 L332.57,26.20 L332.97,26.19 L333.37,26.18 L333.77,26.17 L334.17,26.16 L334.57,26.16 L334.97,26.15 L335.37,26.14 L335.78,26.13 L336.18,26.12 L336.58,26.11 L336.98,26.11 L337.38,26.10 L337.78,26.09 L338.18,26.08 L338.58,26.07 L338.98,26.06 L339.38,26.06 L339.78,26.05 L340.18,26.04 L340.58,26.03 L340.98,26.02 L341.38,26.02 L341.78,26.01 L342.18,26.00 L342.58,25.99 L342.98,25.98 L343.38,25.97 L343.78,25.97 L344.19,25.96 L344.59,25.95 L344.99,25.94 L345.39,25.93 L345.79,25.92 L346.19,25.92 L346.59,25.91 L346.99,25.90 L347.39,25.89 L347.79,25.88 L348.19,25.87 L348.59,25.87 L348.99,25.86 L349.39,25.85 L349.79,25.84 L350.19,25.83 L350.59,25.82 L350.99,25.82 L351.39,25.81 L351.79,25.80 L352.19,25.79 L352.59,25.78 L353.00,25.78 L353.40,25.77 L353.80,25.76 L354.20,25.75 L354.60,25.74 L355.00,25.73 L355.40,25.73 L355.80,25.72 L356.20,25.71 L356.60,25.70 L357.00,25.70" stroke="#D95319"/>
<path d="M56.65,484.75 L57.05,484.75 L57.45,484.75 L57.85,484.75 L58.25,484.75 L58.65,484.75 L59.05,484.75 L59.45,484.75 L59.85,484.75 L60.25,484.75 L60.65,484.75 L61.06,484.75 L61.46,484.75 L61.86,484.75 L62.26,484.75 L62.66,484.75 L63.06,484.75 L63.46,484.75 L63.86,484.75 L64.26,484.75 L64.66,484.75 L65.06,484.75 L65.46,484.75 L65.86,484.75 L66.26,484.75 L66.66,484.75 L67.06,484.75 L67.46,484.75 L67.86,484.75 L68.26,484.75 L68.66,484.75 L69.06,484.75 L69.46,484.75 L69.87,484.75 L70.27,484.75 L70.67,484.75 L71.07,484.75 L71.47,484.75 L71.87,484.75 L72.27,484.75 L72.67,484.75 L73.07,484.75 L73.47,484.75 L73.87,484.75 L74.27,484.75 L74.67,484.75 L75.07,484.75 L75.47,484.75 L75.87,484.75 L76.27,484.75 L76.67,484.75 L77.07,484.75 L77.47,484.75 L77.87,484.75 L78.28,484.75 L78.68,484.75 L79.08,484.75 L79.48,484.75 L79.88,484.75 L80.28,484.75 L80.68,484.75 L81.08,484.75 L81.48,484.75 L81.88,484.75 L82.28,484.75 L82.68,484.75 L83.08,484.75 L83.48,484.75 L83.88,484.75 L84.28,484.75 L84.68,484.75 L85.08,484.75 L85.48,484.75 L85.88,484.75 L86.28,484.75 L86.69,484.75 L87.09,484.75 L87.49,484.75 L87.89,484.75 L88.29,484.75 L88.69,484.75 L89.09,484.75 L89.49,484.75 L89.89,484.75 L90.29,484.75 L90.69,484.75 L91.09,484.75 L91.49,484.75 L91.89,484.75 L92.29,484.75 L92.69,484.75 L93.09,484.75 L93.49,484.75 L93.89,484.75 L94.29,484.75 L94.69,484.75 L95.09,484.75 L95.50,484.75 L95.90,484.75 L96.30,484.75 L96.70,484.75 L97.10,484.75 L97.50,484.75 L97.90,484.75 L98.30,484.75 L98.70,484.75 L99.10,484.75 L99.50,484.75 L99.90,484.75 L100.30,484.75 L100.70,484.75 L101.10,484.75 L101.50,484.75 L101.90,484.75 L102.30,484.75 L102.70,484.75 L103.10,484.75 L103.50,484.75 L103.91,484.75 L104.31,484.75 L104.71,484.75 L105.11,484.75 L105.51,484.75 L105.91,484.75 L106.31,484.75 L106.71,484.75 L107.11,484.75 L107.51,484.75 L107.91,484.74 L108.31,484.74 L108.71,484.74 L109.11,484.74 L109.51,484.74 L109.91,484.74 L110.31,484.74 L110.71,484.74 L111.11,484.73 L111.51,484.73 L111.91,484.73 L112.31,484.73 L112.72,484.72 L113.12,484.72 L113.52,484.71 L113.92,484.71 L114.32,484.71 L114.72,484.70 L115.12,484.69 L115.52,484.69 L115.92,484.68 L116.32,484.67 L116.72,484.66 L117.12,484.65 L117.52,484.64 L117.92,484.63 L118.32,484.62 L118.72,484.61 L119.12,484.59 L119.52,484.57 L119.92,484.56 L120.32,484.54 L120.72,484.52 L121.13,484.49 L121.53,484.47 L121.93,484.44 L122.33,484.41 L122.73,484.38 L123.13,484.35 L123.53,484.31 L123.93,484.28 L124.33,484.23 L124.73,484.19 L125.13,484.14 L125.53,484.09 L125.93,484.04 L126.33,483.98 L126.73,483.92 L127.13,483.85 L127.53,483.78 L127.93,483.71 L128.33,483.63 L128.73,483.55 L129.13,483.46 L129.53,483.36 L129.94,483.26 L130.34,483.16 L130.74,483.04 L131.14,482.92 L131.54,482.80 L131.94,482.67 L132.34,482.53 L132.74,482.38 L133.14,482.23 L133.54,482.06 L133.94,481.89 L134.34,481.71 L134.74,481.52 L135.14,481.33 L135.34,481.22 L135.54,481.12 L135.74,481.01 L135.94,480.90 L136.14,480.79 L136.34,480.68 L136.54,480.56 L136.74,480.44 L136.94,480.32 L137.14,480.19 L137.34,480.06 L137.54,479.93 L137.74,479.80 L137.94,479.66 L138.14,479.52 L138.35,479.38 L138.55,479.23 L138.75,479.08 L138.95,478.93 L139.15,478.78 L139.35,478.62 L139.55,478.46 L139.75,478.29 L139.95,478.13 L140.15,477.95 L140.35,477.78 L140.55,477.60 L140.75,477.42 L140.95,477.24 L141.15,477.05 L141.35,476.86 L141.55,476.66 L141.75,476.46 L141.95,476.26 L142.15,476.05 L142.35,475.84 L142.55,475.63 L142.75,475.41 L142.95,475.19 L143.15,474.96 L143.35,474.73 L143.55,474.50 L143.75,474.26 L143.95,474.02 L144.15,473.77 L144.35,473.52 L144.55,473.27 L144.75,473.01 L144.95,472.75 L145.15,472.48 L145.35,472.21 L145.55,471.93 L145.75,471.65 L145.95,471.37 L146.15,471.08 L146.35,470.79 L146.55,470.49 L146.75,470.19 L146.96,469.88 L147.16,469.57 L147.36,469.25 L147.56,468.93 L147.76,468.61 L147.96,468.28 L148.16,467.94 L148.36,467.60 L148.56,467.25 L148.76,466.91 L148.96,466.55 L149.16,466.19 L149.36,465.83 L149.56,465.46 L149.76,465.08 L149.96,464.70 L150.16,464.32 L150.36,463.93 L150.56,463.53 L150.76,463.13 L150.96,462.73 L151.16,462.32 L151.36,461.90 L151.56,461.48 L151.76,461.06 L151.96,460.63 L152.16,460.19 L152.36,459.75 L152.56,459.30 L152.76,458.85 L152.96,458.39 L153.16,457.93 L153.36,457.46 L153.56,456.98 L153.76,456.51 L153.96,456.02 L154.16,455.53 L154.36,455.03 L154.56,454.53 L154.76,454.03 L154.96,453.52 L155.16,453.00 L155.37,452.47 L155.57,451.95 L155.77,451.41 L155.97,450.87 L156.17,450.33 L156.37,449.78 L156.57,449.22 L156.77,448.66 L156.97,448.09 L157.17,447.52 L157.37,446.94 L157.57,446.35 L157.77,445.76 L157.97,445.17 L158.17,444.57 L158.37,443.96 L158.57,443.35 L158.77,442.73 L158.97,442.11 L159.17,441.48 L159.37,440.85 L159.57,440.21 L159.77,439.56 L159.97,438.91 L160.17,438.25 L160.37,437.59 L160.57,436.92 L160.77,436.25 L160.97,435.57 L161.17,434.89 L161.37,434.20 L161.57,433.50 L161.77,432.80 L161.97,432.10 L162.17,431.39 L162.37,430.67 L162.57,429.95 L162.77,429.22 L162.97,428.49 L163.17,427.75 L163.37,427.00 L163.57,426.25 L163.77,425.50 L163.98,424.74 L164.18,423.98 L164.38,423.21 L164.58,422.43 L164.78,421.65 L164.98,420.86 L165.18,420.07 L165.38,419.28 L165.58,418.48 L165.78,417.67 L165.98,416.86 L166.18,416.04 L166.38,415.22 L166.58,414.39 L166.78,413.56 L166.98,412.73 L167.18,411.89 L167.38,411.04 L167.58,410.19 L167.78,409.33 L167.98,408.47 L168.18,407.61 L168.38,406.74 L168.58,405.86 L168.78,404.98 L168.98,404.10 L169.18,403.21 L169.38,402.32 L169.58,401.42 L169.78,400.52 L169.98,399.61 L170.18,398.70 L170.38,397.78 L170.58,396.87 L170.78,395.94 L170.98,395.01 L171.18,394.08 L171.38,393.14 L171.58,392.20 L171.78,391.26 L171.98,390.31 L172.18,389.36 L172.38,388.40 L172.59,387.44 L172.79,386.47 L172.99,385.51 L173.19,384.53 L173.39,383.56 L173.59,382.58 L173.79,381.59 L173.99,380.61 L174.19,379.61 L174.39,378.62 L174.59,377.62 L174.79,376.62 L174.99,375.62 L175.19,374.61 L175.39,373.60 L175.59,372.58 L175.79,371.56 L175.99,370.54 L176.19,369.52 L176.39,368.49 L176.59,367.46 L176.79,366.42 L176.99,365.39 L177.19,364.35 L177.39,363.30 L177.59,362.26 L177.79,361.21 L177.99,360.16 L178.19,359.11 L178.39,358.05 L178.59,356.99 L178.79,355.93 L178.99,354.87 L179.19,353.80 L179.39,352.73 L179.59,351.66 L179.79,350.59 L179.99,349.51 L180.19,348.43 L180.39,347.35 L180.59,346.27 L180.79,345.19 L180.99,344.10 L181.20,343.01 L181.40,341.92 L181.60,340.83 L181.80,339.74 L182.00,338.64 L182.20,337.54 L182.40,336.45 L182.60,335.35 L182.80,334.24 L183.00,333.14 L183.20,332.04 L183.40,330.93 L183.60,329.82 L183.80,328.71 L184.00,327.60 L184.20,326.49 L184.40,325.38 L184.60,324.26 L184.80,323.15 L185.00,322.03 L185.20,320.92 L185.40,319.80 L185.60,318.68 L185.80,317.56 L186.00,316.44 L186.20,315.32 L186.40,314.20 L186.60,313.07 L186.80,311.95 L187.00,310.83 L187.20,309.70 L187.40,308.58 L187.60,307.45 L187.80,306.33 L188.00,305.20 L188.20,304.08 L188.40,302.95 L188.60,301.83 L188.80,300.70 L189.00,299.57 L189.20,298.45 L189.40,297.32 L189.60,296.19 L189.81,295.07 L190.01,293.94 L190.21,292.82 L190.41,291.69 L190.61,290.56 L190.81,289.44 L191.01,288.31 L191.21,287.19 L191.41,286.07 L191.61,284.94 L191.81,283.82 L192.01,282.70 L192.21,281.58 L192.41,280.46 L192.61,279.33 L192.81,278.22 L193.01,277.10 L193.21,275.98 L193.41,274.86 L193.61,273.75 L193.81,272.63 L194.01,271.52 L194.21,270.40 L194.41,269.29 L194.61,268.18 L194.81,267.07 L195.01,265.96 L195.21,264.85 L195.41,263.75 L195.61,262.64 L195.81,261.54 L196.01,260.44 L196.21,259.34 L196.41,258.24 L196.61,257.14 L196.81,256.04 L197.01,254.95 L197.21,253.85 L197.41,252.76 L197.61,251.67 L197.81,250.58 L198.01,249.50 L198.21,248.41 L198.42,247.33 L198.62,246.25 L198.82,245.17 L199.02,244.09 L199.22,243.02 L199.42,241.94 L199.62,240.87 L199.82,239.80 L200.02,238.73 L200.22,237.67 L200.42,236.60 L200.62,235.54 L200.82,234.48 L201.02,233.43 L201.22,232.37 L201.42,231.32 L201.62,230.27 L201.82,229.22 L202.02,228.17 L202.22,227.13 L202.42,226.09 L202.62,225.05 L202.82,224.02 L203.02,222.98 L203.22,221.95 L203.42,220.92 L203.62,219.90 L203.82,218.87 L204.02,217.85 L204.22,216.83 L204.42,215.82 L204.62,214.80 L204.82,213.79 L205.02,212.78 L205.22,211.78 L205.42,210.78 L205.62,209.78 L205.82,208.78 L206.02,207.78 L206.22,206.79 L206.42,205.80 L206.62,204.82 L206.83,203.84 L207.03,202.86 L207.23,201.88 L207.43,200.90 L207.63,199.93 L207.83,198.96 L208.03,198.00 L208.23,197.04 L208.43,196.08 L208.63,195.12 L208.83,194.17 L209.03,193.22 L209.23,192.27 L209.43,191.33 L209.63,190.38 L209.83,189.45 L210.03,188.51 L210.23,187.58 L210.43,186.65 L210.63,185.73 L210.83,184.80 L211.03,183.89 L211.23,182.97 L211.43,182.06 L211.63,181.15 L211.83,180.24 L212.03,179.34 L212.23,178.44 L212.43,177.54 L212.63,176.65 L212.83,175.76 L213.03,174.87 L213.23,173.99 L213.43,173.11 L213.63,172.23 L213.83,171.36 L214.03,170.49 L214.23,169.62 L214.43,168.76 L214.63,167.90 L214.83,167.04 L215.03,166.19 L215.23,165.34 L215.44,164.49 L215.64,163.65 L215.84,162.81 L216.04,161.97 L216.24,161.14 L216.44,160.31 L216.64,159.48 L216.84,158.66 L217.04,157.84 L217.24,157.03 L217.44,156.21 L217.64,155.41 L217.84,154.60 L218.04,153.80 L218.24,153.00 L218.44,152.20 L218.64,151.41 L218.84,150.62 L219.04,149.84 L219.24,149.06 L219.44,148.28 L219.64,147.51 L219.84,146.73 L220.04,145.97 L220.24,145.20 L220.44,144.44 L220.64,143.68 L220.84,142.93 L221.04,142.18 L221.24,141.43 L221.44,140.69 L221.64,139.95 L221.84,139.21 L222.04,138.48 L222.24,137.75 L222.44,137.03 L222.64,136.30 L222.84,135.58 L223.04,134.87 L223.24,134.16 L223.44,133.45 L223.64,132.74 L223.84,132.04 L224.05,131.34 L224.25,130.65 L224.45,129.95 L224.65,129.26 L224.85,128.58 L225.05,127.90 L225.25,127.22 L225.45,126.55 L225.65,125.87 L225.85,125.21 L226.05,124.54 L226.25,123.88 L226.45,123.22 L226.65,122.57 L226.85,121.92 L227.05,121.27 L227.25,120.63 L227.45,119.98 L227.65,119.35 L227.85,118.71 L228.05,118.08 L228.25,117.45 L228.45,116.83 L228.65,116.21 L228.85,115.59 L229.05,114.98 L229.25,114.37 L229.45,113.76 L229.65,113.15 L229.85,112.55 L230.05,111.95 L230.25,111.36 L230.45,110.77 L230.65,110.18 L230.85,109.59 L231.05,109.01 L231.25,108.43 L231.45,107.86 L231.65,107.29 L231.85,106.72 L232.05,106.15 L232.25,105.59 L232.45,105.03 L232.66,104.47 L232.86,103.92 L233.06,103.37 L233.26,102.82 L233.46,102.28 L233.66,101.74 L233.86,101.20 L234.06,100.67 L234.26,100.14 L234.46,99.61 L234.66,99.08 L234.86,98.56 L235.06,98.04 L235.26,97.53 L235.46,97.01 L235.66,96.50 L235.86,96.00 L236.06,95.49 L236.26,94.99 L236.46,94.49 L236.66,94.00 L236.86,93.50 L237.06,93.02 L237.26,92.53 L237.46,92.05 L237.66,91.57 L237.86,91.09 L238.06,90.61 L238.26,90.14 L238.46,89.67 L238.66,89.21 L238.86,88.74 L239.06,88.28 L239.26,87.83 L239.46,87.37 L239.66,86.92 L239.86,86.47 L240.06,86.02 L240.26,85.58 L240.46,85.14 L240.66,84.70 L240.86,84.27 L241.06,83.83 L241.27,83.41 L241.47,82.98 L241.67,82.55 L241.87,82.13 L242.07,81.71 L242.27,81.30 L242.47,80.88 L242.67,80.47 L242.87,80.06 L243.07,79.66 L243.27,79.25 L243.47,78.85 L243.67,78.46 L243.87,78.06 L244.07,77.67 L244.27,77.28 L244.47,76.89 L244.67,76.50 L244.87,76.12 L245.07,75.74 L245.27,75.36 L245.47,74.99 L245.67,74.62 L245.87,74.25 L246.07,73.88 L246.27,73.51 L246.47,73.15 L246.67,72.79 L246.87,72.43 L247.07,72.07 L247.27,71.72 L247.47,71.37 L247.67,71.02 L247.87,70.67 L248.07,70.33 L248.27,69.99 L248.47,69.65 L248.67,69.31 L248.87,68.98 L249.07,68.65 L249.27,68.31 L249.47,67.99 L249.67,67.66 L249.88,67.34 L250.08,67.02 L250.28,66.70 L250.48,66.38 L250.68,66.07 L250.88,65.75 L251.08,65.44 L251.28,65.13 L251.48,64.83 L251.68,64.52 L251.88,64.22 L252.08,63.92 L252.28,63.62 L252.48,63.33 L252.68,63.03 L252.88,62.74 L253.08,62.45 L253.28,62.17 L253.48,61.88 L253.68,61.60 L253.88,61.32 L254.08,61.04 L254.28,60.76 L254.48,60.48 L254.68,60.21 L254.88,59.94 L255.08,59.67 L255.28,59.40 L255.48,59.14 L255.68,58.87 L255.88,58.61 L256.08,58.35 L256.28,58.09 L256.48,57.83 L256.68,57.58 L256.88,57.33 L257.08,57.08 L257.28,56.83 L257.48,56.58 L257.68,56.33 L257.88,56.09 L258.08,55.85 L258.28,55.61 L258.49,55.37 L258.69,55.13 L258.89,54.90 L259.09,54.67 L259.29,54.43 L259.49,54.20 L259.69,53.98 L259.89,53.75 L260.09,53.53 L260.29,53.30 L260.49,53.08 L260.69,52.86 L260.89,52.64 L261.09,52.43 L261.29,52.21 L261.49,52.00 L261.69,51.79 L261.89,51.58 L262.09,51.37 L262.29,51.16 L262.49,50.96 L262.69,50.75 L262.89,50.55 L263.09,50.35 L263.29,50.15 L263.49,49.95 L263.69,49.76 L263.89,49.56 L264.09,49.37 L264.29,49.17 L264.49,48.98 L264.69,48.80 L264.89,48.61 L265.09,48.42 L265.29,48.24 L265.49,48.05 L265.69,47.87 L265.89,47.69 L266.09,47.51 L266.29,47.33 L266.49,47.16 L266.69,46.98 L266.90,46.81 L267.10,46.64 L267.30,46.47 L267.50,46.30 L267.70,46.13 L267.90,45.96 L268.10,45.79 L268.30,45.63 L268.50,45.47 L268.70,45.30 L268.90,45.14 L269.10,44.98 L269.30,44.83 L269.50,44.67 L269.70,44.51 L269.90,44.36 L270.10,44.21 L270.30,44.05 L270.50,43.90 L270.70,43.75 L270.90,43.60 L271.10,43.46 L271.30,43.31 L271.50,43.17 L271.70,43.02 L271.90,42.88 L272.10,42.74 L272.30,42.60 L272.50,42.46 L272.70,42.32 L272.90,42.18 L273.10,42.04 L273.30,41.91 L273.50,41.78 L273.70,41.64 L273.90,41.51 L274.10,41.38 L274.30,41.25 L274.50,41.12 L274.70,40.99 L274.90,40.87 L275.10,40.74 L275.30,40.62 L275.51,40.49 L275.71,40.37 L275.91,40.25 L276.11,40.13 L276.31,40.01 L276.51,39.89 L276.71,39.77 L276.91,39.65 L277.11,39.54 L277.31,39.42 L277.51,39.31 L277.71,39.20 L277.91,39.08 L278.11,38.97 L278.31,38.86 L278.51,38.75 L278.71,38.64 L278.91,38.54 L279.11,38.43 L279.31,38.32 L279.51,38.22 L279.71,38.11 L279.91,38.01 L280.11,37.91 L280.31,37.81 L280.51,37.71 L280.71,37.61 L281.11,37.41 L281.51,37.21 L281.91,37.02 L282.31,36.83 L282.71,36.65 L283.11,36.47 L283.51,36.29 L283.91,36.11 L284.32,35.94 L284.72,35.77 L285.12,35.60 L285.52,35.44 L285.92,35.28 L286.32,35.12 L286.72,34.96 L287.12,34.81 L287.52,34.66 L287.92,34.51 L288.32,34.36 L288.72,34.22 L289.12,34.08 L289.52,33.94 L289.92,33.80 L290.32,33.67 L290.72,33.53 L291.12,33.40 L291.52,33.28 L291.92,33.15 L292.32,33.03 L292.73,32.91 L293.13,32.79 L293.53,32.67 L293.93,32.56 L294.33,32.44 L294.73,32.33 L295.13,32.22 L295.53,32.12 L295.93,32.01 L296.33,31.91 L296.73,31.80 L297.13,31.70 L297.53,31.61 L297.93,31.51 L298.33,31.41 L298.73,31.32 L299.13,31.23 L299.53,31.14 L299.93,31.05 L300.33,30.96 L300.73,30.88 L301.13,30.79 L301.54,30.71 L301.94,30.63 L302.34,30.55 L302.74,30.47 L303.14,30.40 L303.54,30.32 L303.94,30.25 L304.34,30.17 L304.74,30.10 L305.14,30.03 L305.54,29.96 L305.94,29.89 L306.34,29.83 L306.74,29.76 L307.14,29.70 L307.54,29.63 L307.94,29.57 L308.34,29.51 L308.74,29.45 L309.14,29.39 L309.54,29.33 L309.95,29.28 L310.35,29.22 L310.75,29.17 L311.15,29.11 L311.55,29.06 L311.95,29.01 L312.35,28.96 L312.75,28.91 L313.15,28.86 L313.55,28.81 L313.95,28.76 L314.35,28.72 L314.75,28.67 L315.15,28.63 L315.55,28.58 L315.95,28.54 L316.35,28.50 L316.75,28.45 L317.15,28.41 L317.55,28.37 L317.95,28.33 L318.35,28.29 L318.76,28.26 L319.16,28.22 L319.56,28.18 L319.96,28.15 L320.36,28.11 L320.76,28.08 L321.16,28.04 L321.56,28.01 L321.96,27.98 L322.36,27.94 L322.76,27.91 L323.16,27.88 L323.56,27.85 L323.96,27.82 L324.36,27.79 L324.76,27.76 L325.16,27.73 L325.56,27.71 L325.96,27.68 L326.36,27.65 L326.76,27.63 L327.17,27.60 L327.57,27.57 L327.97,27.55 L328.37,27.53 L328.77,27.50 L329.17,27.48 L329.57,27.45 L329.97,27.43 L330.37,27.41 L330.77,27.39 L331.17,27.37 L331.57,27.35 L331.97,27.32 L332.37,27.30 L332.77,27.28 L333.17,27.26 L333.57,27.25 L333.97,27.23 L334.37,27.21 L334.77,27.19 L335.17,27.17 L335.58,27.16 L335.98,27.14 L336.38,27.12 L336.78,27.10 L337.18,27.09 L337.58,27.07 L337.98,27.06 L338.38,27.04 L338.78,27.03 L339.18,27.01 L339.58,27.00 L339.98,26.98 L340.38,26.97 L340.78,26.96 L341.18,26.94 L341.58,26.93 L341.98,26.92 L342.38,26.90 L342.78,26.89 L343.18,26.88 L343.58,26.87 L343.98,26.86 L344.39,26.84 L344.79,26.83 L345.19,26.82 L345.59,26.81 L345.99,26.80 L346.39,26.79 L346.79,26.78 L347.19,26.77 L347.59,26.76 L347.99,26.75 L348.39,26.74 L348.79,26.73 L349.19,26.72 L349.59,26.71 L349.99,26.70 L350.39,26.69 L350.79,26.69 L351.19,26.68 L351.59,26.67 L351.99,26.66 L352.39,26.65 L352.80,26.65 L353.20,26.64 L353.60,26.63 L354.00,26.62 L354.40,26.62 L354.80,26.61 L355.20,26.60 L355.60,26.60 L356.00,26.59 L356.40,26.58 L356.80,26.58 L357.00,26.57" stroke="#EDB120"/>
<path d="M56.65,484.52 L57.05,484.51 L57.45,484.51 L57.85,484.50 L58.25,484.49 L58.65,484.48 L59.05,484.47 L59.45,484.47 L59.85,484.46 L60.25,484.45 L60.65,484.44 L61.06,484.44 L61.46,484.43 L61.86,484.42 L62.26,484.41 L62.66,484.41 L63.06,484.40 L63.46,484.39 L63.86,484.38 L64.26,484.37 L64.66,484.37 L65.06,484.36 L65.46,484.35 L65.86,484.34 L66.26,484.34 L66.66,484.33 L67.06,484.32 L67.46,484.31 L67.86,484.31 L68.26,484.30 L68.66,484.29 L69.06,484.28 L69.46,484.27 L69.87,484.27 L70.27,484.26 L70.67,484.25 L71.07,484.24 L71.47,484.24 L71.87,484.23 L72.27,484.22 L72.67,484.21 L73.07,484.21 L73.47,484.20 L73.87,484.19 L74.27,484.18 L74.67,484.17 L75.07,484.17 L75.47,484.16 L75.87,484.15 L76.27,484.14 L76.67,484.14 L77.07,484.13 L77.47,484.12 L77.87,484.11 L78.28,484.11 L78.68,484.10 L79.08,484.09 L79.48,484.08 L79.88,484.07 L80.28,484.07 L80.68,484.06 L81.08,484.05 L81.48,484.04 L81.88,484.04 L82.28,484.03 L82.68,484.02 L83.08,484.01 L83.48,484.01 L83.88,484.00 L84.28,483.99 L84.68,483.98 L85.08,483.97 L85.48,483.97 L85.88,483.96 L86.28,483.95 L86.69,483.94 L87.09,483.94 L87.49,483.93 L87.89,483.92 L88.29,483.91 L88.69,483.90 L89.09,483.90 L89.49,483.89 L89.89,483.88 L90.29,483.87 L90.69,483.87 L91.09,483.86 L91.49,483.85 L91.89,483.84 L92.29,483.84 L92.69,483.83 L93.09,483.82 L93.49,483.81 L93.89,483.80 L94.29,483.80 L94.69,483.79 L95.09,483.78 L95.50,483.77 L95.90,483.77 L96.30,483.76 L96.70,483.75 L97.10,483.74 L97.50,483.74 L97.90,483.73 L98.30,483.72 L98.70,483.71 L99.10,483.70 L99.50,483.70 L99.90,483.69 L100.30,483.68 L100.70,483.67 L101.10,483.67 L101.50,483.66 L101.90,483.65 L102.30,483.64 L102.70,483.64 L103.10,483.63 L103.50,483.62 L103.91,483.61 L104.31,483.60 L104.71,483.60 L105.11,483.59 L105.51,483.58 L105.91,483.57 L106.31,483.57 L106.71,483.56 L107.11,483.55 L107.51,483.54 L107.91,483.54 L108.31,483.53 L108.71,483.52 L109.11,483.51 L109.51,483.50 L109.91,483.50 L110.31,483.49 L110.71,483.48 L111.11,483.47 L111.51,483.47 L111.91,483.46 L112.31,483.45 L112.72,483.44 L113.12,483.44 L113.52,483.43 L113.92,483.42 L114.32,483.41 L114.72,483.40 L115.12,483.40 L115.52,483.39 L115.92,483.38 L116.32,483.37 L116.72,483.37 L117.12,483.36 L117.52,483.35 L117.92,483.34 L118.32,483.34 L118.72,483.33 L119.12,483.32 L119.52,483.31 L119.92,483.30 L120.32,483.30 L120.72,483.29 L121.13,483.28 L121.53,483.27 L121.93,483.27 L122.33,483.26 L122.73,483.25 L123.13,483.24 L123.53,483.24 L123.93,483.23 L124.33,483.22 L124.73,483.21 L125.13,483.20 L125.53,483.20 L125.93,483.19 L126.33,483.18 L126.73,483.17 L127.13,483.17 L127.53,483.16 L127.93,483.15 L128.33,483.14 L128.73,483.14 L129.13,483.13 L129.53,483.12 L129.94,483.11 L130.34,483.10 L130.74,483.10 L131.14,483.09 L131.54,483.08 L131.94,483.07 L132.34,483.07 L132.74,483.06 L133.14,483.05 L133.54,483.04 L133.94,483.04 L134.34,483.03 L134.74,483.02 L135.14,483.01 L135.54,483.00 L135.94,483.00 L136.34,482.99 L136.74,482.98 L137.14,482.97 L137.54,482.97 L137.94,482.96 L138.35,482.95 L138.75,482.94 L139.15,482.94 L139.55,482.93 L139.95,482.92 L140.35,482.91 L140.75,482.90 L141.15,482.90 L141.55,482.89 L141.95,482.88 L142.35,482.87 L142.75,482.87 L143.15,482.86 L143.55,482.85 L143.95,482.84 L144.35,482.84 L144.75,482.83 L145.15,482.82 L145.55,482.81 L145.95,482.80 L146.35,482.80 L146.75,482.79 L147.16,482.78 L147.56,482.77 L147.96,482.77 L148.36,482.76 L148.76,482.75 L149.16,482.74 L149.56,482.73 L149.96,482.73 L150.36,482.72 L150.76,482.71 L151.16,482.70 L151.56,482.70 L151.96,482.69 L152.36,482.68 L152.76,482.67 L153.16,482.67 L153.56,482.66 L153.96,482.65 L154.36,482.64 L154.76,482.63 L155.16,482.63 L155.57,482.62 L155.97,482.61 L156.37,482.60 L156.77,482.60 L157.17,482.59 L157.57,482.58 L157.97,482.57 L158.37,482.57 L158.77,482.56 L159.17,482.55 L159.57,482.54 L159.97,482.53 L160.37,482.53 L160.77,482.52 L161.17,482.51 L161.57,482.50 L161.97,482.50 L162.37,482.49 L162.77,482.48 L163.17,482.47 L163.57,482.47 L163.98,482.46 L164.38,482.45 L164.78,482.40 L165.18,482.27 L165.58,482.14 L165.98,482.00 L166.38,481.85 L166.78,481.70 L167.18,481.54 L167.58,481.37 L167.98,481.20 L168.38,481.02 L168.78,480.83 L169.18,480.64 L169.38,480.53 L169.58,480.43 L169.78,480.33 L169.98,480.22 L170.18,480.11 L170.38,480.00 L170.58,479.89 L170.78,479.78 L170.98,479.66 L171.18,479.54 L171.38,479.42 L171.58,479.30 L171.78,479.17 L171.98,479.04 L172.18,478.91 L172.38,478.78 L172.59,478.65 L172.79,478.51 L172.99,478.37 L173.19,478.23 L173.39,478.08 L173.59,477.93 L173.79,477.79 L173.99,477.63 L174.19,477.48 L174.39,477.32 L174.59,477.16 L174.79,477.00 L174.99,476.83 L175.19,476.67 L175.39,476.50 L175.59,476.32 L175.79,476.15 L175.99,475.97 L176.19,475.78 L176.39,475.60 L176.59,475.41 L176.79,475.22 L176.99,475.03 L177.19,474.83 L177.39,474.63 L177.59,474.43 L177.79,474.22 L177.99,474.02 L178.19,473.80 L178.39,473.59 L178.59,473.37 L178.79,473.15 L178.99,472.92 L179.19,472.70 L179.39,472.47 L179.59,472.23 L179.79,471.99 L179.99,471.75 L180.19,471.51 L180.39,471.26 L180.59,471.01 L180.79,470.75 L180.99,470.50 L181.20,470.23 L181.40,469.97 L181.60,469.70 L181.80,469.43 L182.00,469.15 L182.20,468.87 L182.40,468.59 L182.60,468.30 L182.80,468.01 L183.00,467.72 L183.20,467.42 L183.40,467.12 L183.60,466.81 L183.80,466.50 L184.00,466.19 L184.20,465.87 L184.40,465.55 L184.60,465.22 L184.80,464.89 L185.00,464.56 L185.20,464.23 L185.40,463.88 L185.60,463.54 L185.80,463.19 L186.00,462.84 L186.20,462.48 L186.40,462.12 L186.60,461.76 L186.80,461.39 L187.00,461.01 L187.20,460.64 L187.40,460.25 L187.60,459.87 L187.80,459.48 L188.00,459.08 L188.20,458.69 L188.40,458.28 L188.60,457.88 L188.80,457.47 L189.00,457.05 L189.20,456.63 L189.40,456.21 L189.60,455.78 L189.81,455.35 L190.01,454.91 L190.21,454.47 L190.41,454.02 L190.61,453.57 L190.81,453.12 L191.01,452.66 L191.21,452.20 L191.41,451.73 L191.61,451.26 L191.81,450.78 L192.01,450.30 L192.21,449.81 L192.41,449.32 L192.61,448.83 L192.81,448.33 L193.01,447.83 L193.21,447.32 L193.41,446.81 L193.61,446.29 L193.81,445.77 L194.01,445.24 L194.21,444.71 L194.41,444.18 L194.61,443.64 L194.81,443.10 L195.01,442.55 L195.21,442.00 L195.41,441.44 L195.61,440.88 L195.81,440.31 L196.01,439.74 L196.21,439.16 L196.41,438.58 L196.61,438.00 L196.81,437.41 L197.01,436.82 L197.21,436.22 L197.41,435.62 L197.61,435.01 L197.81,434.40 L198.01,433.78 L198.21,433.16 L198.42,432.54 L198.62,431.91 L198.82,431.27 L199.02,430.63 L199.22,429.99 L199.42,429.34 L199.62,428.69 L199.82,428.03 L200.02,427.37 L200.22,426.71 L200.42,426.04 L200.62,425.37 L200.82,424.69 L201.02,424.00 L201.22,423.32 L201.42,422.63 L201.62,421.93 L201.82,421.23 L202.02,420.53 L202.22,419.82 L202.42,419.10 L202.62,418.39 L202.82,417.66 L203.02,416.94 L203.22,416.21 L203.42,415.47 L203.62,414.74 L203.82,413.99 L204.02,413.25 L204.22,412.50 L204.42,411.74 L204.62,410.98 L204.82,410.22 L205.02,409.45 L205.22,408.68 L205.42,407.90 L205.62,407.12 L205.82,406.34 L206.02,405.55 L206.22,404.76 L206.42,403.97 L206.62,403.17 L206.83,402.36 L207.03,401.56 L207.23,400.74 L207.43,399.93 L207.63,399.11 L207.83,398.29 L208.03,397.46 L208.23,396.63 L208.43,395.80 L208.63,394.96 L208.83,394.12 L209.03,393.28 L209.23,392.43 L209.43,391.58 L209.63,390.72 L209.83,389.86 L210.03,389.00 L210.23,388.13 L210.43,387.26 L210.63,386.39 L210.83,385.52 L211.03,384.64 L211.23,383.75 L211.43,382.87 L211.63,381.98 L211.83,381.09 L212.03,380.19 L212.23,379.29 L212.43,378.39 L212.63,377.49 L212.83,376.58 L213.03,375.67 L213.23,374.75 L213.43,373.83 L213.63,372.91 L213.83,371.99 L214.03,371.06 L214.23,370.14 L214.43,369.20 L214.63,368.27 L214.83,367.33 L215.03,366.39 L215.23,365.45 L215.44,364.50 L215.64,363.56 L215.84,362.61 L216.04,361.65 L216.24,360.70 L216.44,359.74 L216.64,358.78 L216.84,357.82 L217.04,356.85 L217.24,355.88 L217.44,354.91 L217.64,353.94 L217.84,352.97 L218.04,351.99 L218.24,351.01 L218.44,350.03 L218.64,349.05 L218.84,348.06 L219.04,347.07 L219.24,346.08 L219.44,345.09 L219.64,344.10 L219.84,343.11 L220.04,342.11 L220.24,341.11 L220.44,340.11 L220.64,339.11 L220.84,338.10 L221.04,337.10 L221.24,336.09 L221.44,335.08 L221.64,334.07 L221.84,333.06 L222.04,332.05 L222.24,331.03 L222.44,330.02 L222.64,329.00 L222.84,327.98 L223.04,326.96 L223.24,325.94 L223.44,324.92 L223.64,323.89 L223.84,322.87 L224.05,321.84 L224.25,320.82 L224.45,319.79 L224.65,318.76 L224.85,317.73 L225.05,316.70 L225.25,315.67 L225.45,314.64 L225.65,313.60 L225.85,312.57 L226.05,311.53 L226.25,310.50 L226.45,309.46 L226.65,308.43 L226.85,307.39 L227.05,306.35 L227.25,305.31 L227.45,304.27 L227.65,303.23 L227.85,302.19 L228.05,301.15 L228.25,300.11 L228.45,299.07 L228.65,298.03 L228.85,296.99 L229.05,295.95 L229.25,294.91 L229.45,293.87 L229.65,292.83 L229.85,291.78 L230.05,290.74 L230.25,289.70 L230.45,288.66 L230.65,287.62 L230.85,286.58 L231.05,285.54 L231.25,284.49 L231.45,283.45 L231.65,282.41 L231.85,281.37 L232.05,280.33 L232.25,279.29 L232.45,278.26 L232.66,277.22 L232.86,276.18 L233.06,275.14 L233.26,274.10 L233.46,273.07 L233.66,272.03 L233.86,271.00 L234.06,269.96 L234.26,268.93 L234.46,267.89 L234.66,266.86 L234.86,265.83 L235.06,264.80 L235.26,263.77 L235.46,262.74 L235.66,261.71 L235.86,260.69 L236.06,259.66 L236.26,258.64 L236.46,257.61 L236.66,256.59 L236.86,255.57 L237.06,254.55 L237.26,253.53 L237.46,252.51 L237.66,251.49 L237.86,250.47 L238.06,249.46 L238.26,248.45 L238.46,247.43 L238.66,246.42 L238.86,245.41 L239.06,244.41 L239.26,243.40 L239.46,242.40 L239.66,241.39 L239.86,240.39 L240.06,239.39 L240.26,238.39 L240.46,237.39 L240.66,236.40 L240.86,235.40 L241.06,234.41 L241.27,233.42 L241.47,232.43 L241.67,231.45 L241.87,230.46 L242.07,229.48 L242.27,228.50 L242.47,227.52 L242.67,226.54 L242.87,225.56 L243.07,224.59 L243.27,223.62 L243.47,222.65 L243.67,221.68 L243.87,220.71 L244.07,219.75 L244.27,218.78 L244.47,217.82 L244.67,216.87 L244.87,215.91 L245.07,214.96 L245.27,214.01 L245.47,213.06 L245.67,212.11 L245.87,211.16 L246.07,210.22 L246.27,209.28 L246.47,208.34 L246.67,207.41 L246.87,206.47 L247.07,205.54 L247.27,204.61 L247.47,203.68 L247.67,202.76 L247.87,201.84 L248.07,200.92 L248.27,200.00 L248.47,199.09 L248.67,198.17 L248.87,197.26 L249.07,196.36 L249.27,195.45 L249.47,194.55 L249.67,193.65 L249.88,192.75 L250.08,191.86 L250.28,190.97 L250.48,190.08 L250.68,189.19 L250.88,188.31 L251.08,187.42 L251.28,186.55 L251.48,185.67 L251.68,184.80 L251.88,183.93 L252.08,183.06 L252.28,182.19 L252.48,181.33 L252.68,180.47 L252.88,179.61 L253.08,178.76 L253.28,177.90 L253.48,177.06 L253.68,176.21 L253.88,175.37 L254.08,174.52 L254.28,173.69 L254.48,172.85 L254.68,172.02 L254.88,171.19 L255.08,170.36 L255.28,169.54 L255.48,168.72 L255.68,167.90 L255.88,167.09 L256.08,166.27 L256.28,165.46 L256.48,164.66 L256.68,163.85 L256.88,163.05 L257.08,162.26 L257.28,161.46 L257.48,160.67 L257.68,159.88 L257.88,159.10 L258.08,158.31 L258.28,157.53 L258.49,156.76 L258.69,155.98 L258.89,155.21 L259.09,154.44 L259.29,153.68 L259.49,152.91 L259.69,152.16 L259.89,151.40 L260.09,150.65 L260.29,149.90 L260.49,149.15 L260.69,148.41 L260.89,147.66 L261.09,146.93 L261.29,146.19 L261.49,145.46 L261.69,144.73 L261.89,144.00 L262.09,143.28 L262.29,142.56 L262.49,141.84 L262.69,141.13 L262.89,140.42 L263.09,139.71 L263.29,139.01 L263.49,138.30 L263.69,137.61 L263.89,136.91 L264.09,136.22 L264.29,135.53 L264.49,134.84 L264.69,134.16 L264.89,133.48 L265.09,132.80 L265.29,132.13 L265.49,131.45 L265.69,130.79 L265.89,130.12 L266.09,129.46 L266.29,128.80 L266.49,128.14 L266.69,127.49 L266.90,126.84 L267.10,126.19 L267.30,125.55 L267.50,124.91 L267.70,124.27 L267.90,123.63 L268.10,123.00 L268.30,122.37 L268.50,121.75 L268.70,121.12 L268.90,120.50 L269.10,119.89 L269.30,119.27 L269.50,118.66 L269.70,118.05 L269.90,117.45 L270.10,116.85 L270.30,116.25 L270.50,115.65 L270.70,115.06 L270.90,114.47 L271.10,113.88 L271.30,113.29 L271.50,112.71 L271.70,112.13 L271.90,111.56 L272.10,110.99 L272.30,110.42 L272.50,109.85 L272.70,109.29 L272.90,108.72 L273.10,108.17 L273.30,107.61 L273.50,107.06 L273.70,106.51 L273.90,105.96 L274.10,105.42 L274.30,104.88 L274.50,104.34 L274.70,103.81 L274.90,103.27 L275.10,102.74 L275.30,102.22 L275.51,101.69 L275.71,101.17 L275.91,100.65 L276.11,100.14 L276.31,99.63 L276.51,99.12 L276.71,98.61 L276.91,98.11 L277.11,97.60 L277.31,97.11 L277.51,96.61 L277.71,96.12 L277.91,95.63 L278.11,95.14 L278.31,94.65 L278.51,94.17 L278.71,93.69 L278.91,93.22 L279.11,92.74 L279.31,92.27 L279.51,91.80 L279.71,91.34 L279.91,90.87 L280.11,90.41 L280.31,89.95 L280.51,89.50 L280.71,89.05 L280.91,88.60 L281.11,88.15 L281.31,87.70 L281.51,87.26 L281.71,86.82 L281.91,86.38 L282.11,85.95 L282.31,85.52 L282.51,85.09 L282.71,84.66 L282.91,84.24 L283.11,83.81 L283.31,83.39 L283.51,82.98 L283.71,82.56 L283.91,82.15 L284.12,81.74 L284.32,81.34 L284.52,80.93 L284.72,80.53 L284.92,80.13 L285.12,79.73 L285.32,79.34 L285.52,78.94 L285.72,78.56 L285.92,78.17 L286.12,77.79 L286.32,77.41 L286.52,77.03 L286.72,76.66 L286.92,76.28 L287.12,75.92 L287.32,75.55 L287.52,75.19 L287.72,74.83 L287.92,74.47 L288.12,74.12 L288.32,73.77 L288.52,73.42 L288.72,73.07 L288.92,72.73 L289.12,72.39 L289.32,72.05 L289.52,71.72 L289.72,71.38 L289.92,71.05 L290.12,70.73 L290.32,70.40 L290.52,70.08 L290.72,69.76 L290.92,69.44 L291.12,69.12 L291.32,68.81 L291.52,68.50 L291.72,68.19 L291.92,67.89 L292.12,67.58 L292.32,67.28 L292.52,66.98 L292.73,66.69 L292.93,66.39 L293.13,66.10 L293.33,65.81 L293.53,65.52 L293.73,65.23 L293.93,64.95 L294.13,64.67 L294.33,64.39 L294.53,64.11 L294.73,63.83 L294.93,63.56 L295.13,63.29 L295.33,63.02 L295.53,62.75 L295.73,62.48 L295.93,62.22 L296.13,61.96 L296.33,61.70 L296.53,61.44 L296.73,61.18 L296.93,60.93 L297.13,60.67 L297.33,60.42 L297.53,60.17 L297.73,59.93 L297.93,59.68 L298.13,59.44 L298.33,59.19 L298.53,58.95 L298.73,58.71 L298.93,58.48 L299.13,58.24 L299.33,58.01 L299.53,57.78 L299.73,57.55 L299.93,57.32 L300.13,57.09 L300.33,56.86 L300.53,56.64 L300.73,56.42 L300.93,56.20 L301.13,55.98 L301.34,55.76 L301.54,55.54 L301.74,55.33 L301.94,55.11 L302.14,54.90 L302.34,54.69 L302.54,54.48 L302.74,54.27 L302.94,54.07 L303.14,53.86 L303.34,53.66 L303.54,53.46 L303.74,53.26 L303.94,53.06 L304.14,52.86 L304.34,52.66 L304.54,52.47 L304.74,52.27 L304.94,52.08 L305.14,51.89 L305.34,51.70 L305.54,51.51 L305.74,51.33 L305.94,51.14 L306.14,50.95 L306.34,50.77 L306.54,50.59 L306.74,50.41 L306.94,50.23 L307.14,50.05 L307.34,49.87 L307.54,49.70 L307.74,49.52 L307.94,49.35 L308.14,49.18 L308.34,49.00 L308.54,48.83 L308.74,48.67 L308.94,48.50 L309.14,48.33 L309.34,48.16 L309.54,48.00 L309.74,47.84 L309.95,47.67 L310.15,47.51 L310.35,47.35 L310.55,47.19 L310.75,47.04 L310.95,46.88 L311.15,46.72 L311.35,46.57 L311.55,46.42 L311.75,46.26 L311.95,46.11 L312.15,45.96 L312.35,45.81 L312.55,45.66 L312.75,45.51 L312.95,45.37 L313.15,45.22 L313.35,45.08 L313.55,44.93 L313.75,44.79 L313.95,44.65 L314.15,44.51 L314.35,44.37 L314.55,44.23 L314.75,44.09 L314.95,43.95 L315.15,43.82 L315.35,43.68 L315.55,43.55 L315.75,43.41 L315.95,43.28 L316.15,43.15 L316.35,43.02 L316.55,42.89 L316.75,42.76 L316.95,42.63 L317.15,42.50 L317.35,42.38 L317.55,42.25 L317.75,42.13 L317.95,42.00 L318.15,41.88 L318.35,41.76 L318.56,41.63 L318.76,41.51 L318.96,41.39 L319.16,41.27 L319.36,41.16 L319.56,41.04 L319.76,40.92 L319.96,40.80 L320.16,40.69 L320.36,40.57 L320.56,40.46 L320.76,40.35 L320.96,40.24 L321.16,40.12 L321.36,40.01 L321.56,39.90 L321.76,39.79 L321.96,39.69 L322.16,39.58 L322.36,39.47 L322.56,39.36 L322.76,39.26 L322.96,39.15 L323.16,39.05 L323.36,38.94 L323.56,38.84 L323.76,38.74 L323.96,38.64 L324.16,38.54 L324.36,38.44 L324.76,38.24 L325.16,38.04 L325.56,37.85 L325.96,37.66 L326.36,37.47 L326.76,37.28 L327.17,37.10 L327.57,36.92 L327.97,36.74 L328.37,36.56 L328.77,36.39 L329.17,36.22 L329.57,36.05 L329.97,35.88 L330.37,35.72 L330.77,35.56 L331.17,35.40 L331.57,35.24 L331.97,35.08 L332.37,34.93 L332.77,34.78 L333.17,34.63 L333.57,34.48 L333.97,34.33 L334.37,34.19 L334.77,34.05 L335.17,33.91 L335.58,33.77 L335.98,33.64 L336.38,33.51 L336.78,33.38 L337.18,33.25 L337.58,33.12 L337.98,33.00 L338.38,32.88 L338.78,32.76 L339.18,32.64 L339.58,32.53 L339.98,32.41 L340.38,32.30 L340.78,32.19 L341.18,32.09 L341.58,31.98 L341.98,31.88 L342.38,31.77 L342.78,31.67 L343.18,31.58 L343.58,31.48 L343.98,31.38 L344.39,31.29 L344.79,31.20 L345.19,31.11 L345.59,31.02 L345.99,30.93 L346.39,30.85 L346.79,30.76 L347.19,30.68 L347.59,30.60 L347.99,30.52 L348.39,30.44 L348.79,30.36 L349.19,30.28 L349.59,30.21 L349.99,30.14 L350.39,30.07 L350.79,29.99 L351.19,29.93 L351.59,29.86 L351.99,29.79 L352.39,29.72 L352.80,29.66 L353.20,29.60 L353.60,29.53 L354.00,29.47 L354.40,29.41 L354.80,29.35 L355.20,29.30 L355.60,29.24 L356.00,29.18 L356.40,29.13 L356.80,29.07 L357.00,29.05" stroke="#7E2F8E"/>
</g>
<line x1="130.00" y1="484.75" x2="130.00" y2="26.2" stroke="#00CC33" stroke-width="2" stroke-dasharray="6.8 6.86"/>
<line x1="149.00" y1="484.75" x2="149.00" y2="26.2" stroke="#FF8C00" stroke-width="2" stroke-dasharray="6.8 6.86"/>
<line x1="273.00" y1="484.75" x2="273.00" y2="26.2" stroke="#FF0000" stroke-width="2" stroke-dasharray="6.8 6.86"/>
<line x1="333.00" y1="484.75" x2="333.00" y2="26.2" stroke="#000000" stroke-width="2" stroke-dasharray="6.8 6.86"/>
<g font-family="Liberation Serif, serif" font-size="16" fill="#000">
<text x="50.5" y="491.15" text-anchor="end">0</text>
<text x="50.5" y="445.30" text-anchor="end">0.1</text>
<text x="50.5" y="399.45" text-anchor="end">0.2</text>
<text x="50.5" y="353.60" text-anchor="end">0.3</text>
<text x="50.5" y="307.75" text-anchor="end">0.4</text>
<text x="50.5" y="261.90" text-anchor="end">0.5</text>
<text x="50.5" y="216.05" text-anchor="end">0.6</text>
<text x="50.5" y="170.20" text-anchor="end">0.7</text>
<text x="50.5" y="124.35" text-anchor="end">0.8</text>
<text x="50.5" y="78.50" text-anchor="end">0.9</text>
<text x="50.5" y="32.65" text-anchor="end">1</text>
<text x="56.65" y="507.4" text-anchor="middle">0</text>
<text x="113.90" y="507.4" text-anchor="middle">0.1</text>
<text x="171.15" y="507.4" text-anchor="middle">0.2</text>
<text x="228.40" y="507.4" text-anchor="middle">0.3</text>
<text x="285.65" y="507.4" text-anchor="middle">0.4</text>
<text x="342.90" y="507.4" text-anchor="middle">0.5</text>
</g>
<g font-family="Liberation Sans, sans-serif" font-weight="bold" font-size="13.6">
<text transform="translate(126.80,186.4) rotate(-90)" fill="#00CC33">OLS</text>
<text transform="translate(145.80,186.4) rotate(-90)" fill="#FF8C00">DLS</text>
<text transform="translate(269.80,186.4) rotate(-90)" fill="#FF0000">LLS</text>
<text transform="translate(329.80,186.4) rotate(-90)" fill="#000000">CLS</text>
</g>
<text x="206.1" y="18.7" text-anchor="middle" font-family="Liberation Serif, serif" font-weight="bold" font-size="18.3">Bearings</text>
<g font-family="Liberation Serif, serif" font-size="17.6"><text x="178.6" y="529.6">a</text><text x="186.6" y="538.4" font-size="12.6">g</text><text x="194.1" y="529.6">&#183;S [g]</text></g>
<text transform="translate(22.3,255.6) rotate(-90)" text-anchor="middle" font-family="Liberation Serif, serif" font-size="18.7">Probability of exceedance [#]</text>
<rect x="258.1" y="396.0" width="88.10" height="77.40" fill="#fff" stroke="#111" stroke-width="1.35"/>
<line x1="262" y1="407.00" x2="303.4" y2="407.00" stroke="#0072BD" stroke-width="2"/>
<text x="303.7" y="414.80" font-family="IPAGothic, sans-serif" font-size="16">&#947;</text>
<text x="313.6" y="413.10" font-family="Liberation Serif, serif" font-size="16">=0.5</text>
<line x1="262" y1="425.50" x2="303.4" y2="425.50" stroke="#D95319" stroke-width="2"/>
<text x="303.7" y="433.30" font-family="IPAGothic, sans-serif" font-size="16">&#947;</text>
<text x="313.6" y="431.60" font-family="Liberation Serif, serif" font-size="16">=1.0</text>
<line x1="262" y1="444.00" x2="303.4" y2="444.00" stroke="#EDB120" stroke-width="2"/>
<text x="303.7" y="451.80" font-family="IPAGothic, sans-serif" font-size="16">&#947;</text>
<text x="313.6" y="450.10" font-family="Liberation Serif, serif" font-size="16">=1.5</text>
<line x1="262" y1="462.50" x2="303.4" y2="462.50" stroke="#7E2F8E" stroke-width="2"/>
<text x="303.7" y="470.30" font-family="IPAGothic, sans-serif" font-size="16">&#947;</text>
<text x="313.6" y="468.60" font-family="Liberation Serif, serif" font-size="16">=2.0</text>
</svg>
</body></html>
